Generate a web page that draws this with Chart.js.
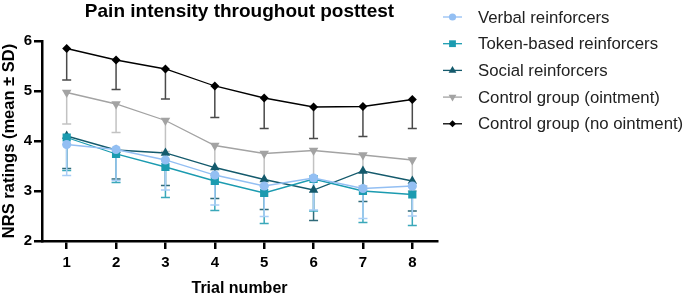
<!DOCTYPE html>
<html>
<head>
<meta charset="utf-8">
<script src="https://cdn.jsdelivr.net/npm/chart.js@4.4.1/dist/chart.umd.min.js"></script>
<style>
  html, body { margin: 0; padding: 0; background: #fff; }
  #wrap { width: 685px; height: 296px; position: relative; }
</style>
</head>
<body>
<div id="wrap"><canvas id="chart" width="685" height="296"></canvas></div>
<script>
const trials = ['1', '2', '3', '4', '5', '6', '7', '8'];

const verbalMean = [3.93, 3.83, 3.62, 3.32, 3.10, 3.26, 3.05, 3.10];
const verbalSD = [0.62, 0.62, 0.60, 0.60, 0.61, 0.64, 0.60, 0.60];
const tokenMean = [4.07, 3.74, 3.48, 3.20, 2.96, 3.24, 3.00, 2.93];
const tokenSD = [0.66, 0.57, 0.61, 0.59, 0.61, 0.64, 0.63, 0.62];
const socialMean = [4.10, 3.82, 3.76, 3.47, 3.23, 3.02, 3.40, 3.20];
const socialSD = [0.65, 0.58, 0.65, 0.62, 0.60, 0.61, 0.61, 0.60];
const ointmentMean = [4.97, 4.74, 4.41, 3.91, 3.75, 3.81, 3.72, 3.62];
const ointmentSD = [0.63, 0.57, 0.62, 0.60, 0.65, 0.60, 0.62, 0.62];
const noOintmentMean = [5.85, 5.62, 5.44, 5.10, 4.86, 4.68, 4.69, 4.83];
const noOintmentSD = [0.63, 0.59, 0.60, 0.63, 0.61, 0.63, 0.60, 0.58];

const FONT = '"Liberation Sans", Arial, Helvetica, sans-serif';

const series = [
  { label: 'Verbal reinforcers', mean: verbalMean, sd: verbalSD, color: '#93bff3', bar: '#a8cdf6', style: 'circle', radius: 4.6, rot: 0 },
  { label: 'Token-based reinforcers', mean: tokenMean, sd: tokenSD, color: '#1b9bb0', bar: '#3aa8ba', style: 'rect', radius: 5.8, rot: 0 },
  { label: 'Social reinforcers', mean: socialMean, sd: socialSD, color: '#145a6c', bar: '#2f6a79', style: 'triangle', radius: 5.5, rot: 0 },
  { label: 'Control group (ointment)', mean: ointmentMean, sd: ointmentSD, color: '#a3a3a3', bar: '#c2c2c2', style: 'triangle', radius: 5.5, rot: 180 },
  { label: 'Control group (no ointment)', mean: noOintmentMean, sd: noOintmentSD, color: '#000000', bar: '#4a4a4a', style: 'rectRot', radius: 4.5, rot: 0 }
];

// lower error bars (mean - SD), drawn under the lines
const errorBars = {
  id: 'errorBars',
  beforeDatasetsDraw(chart) {
    const { ctx, scales: { x, y } } = chart;
    ctx.save();
    ctx.lineWidth = 1.5;
    for (let i = series.length - 1; i >= 0; i--) {
      const s = series[i];
      ctx.strokeStyle = s.bar;
      s.mean.forEach((m, j) => {
        const px = x.getPixelForValue(j);
        const top = y.getPixelForValue(m);
        const bot = y.getPixelForValue(m - s.sd[j]);
        ctx.beginPath();
        ctx.moveTo(px, top);
        ctx.lineTo(px, bot);
        ctx.moveTo(px - 4.5, bot);
        ctx.lineTo(px + 4.5, bot);
        ctx.stroke();
      });
    }
    ctx.restore();
  }
};

const extras = {
  id: 'extras',
  afterDraw(chart) {
    const { ctx, chartArea } = chart;
    ctx.save();
    // title
    ctx.fillStyle = '#000';
    ctx.font = 'bold 19px ' + FONT;
    ctx.textAlign = 'center';
    ctx.textBaseline = 'middle';
    ctx.fillText('Pain intensity throughout posttest', (chartArea.left + chartArea.right) / 2, 12);
    // legend
    ctx.font = '16.8px ' + FONT;
    ctx.textAlign = 'left';
    series.forEach((s, i) => {
      const cy = 17 + i * 26.7;
      ctx.strokeStyle = s.color;
      ctx.lineWidth = 1.3;
      ctx.beginPath();
      ctx.moveTo(443, cy);
      ctx.lineTo(462, cy);
      ctx.stroke();
      ctx.fillStyle = s.color;
      Chart.helpers.drawPoint(ctx, { pointStyle: s.style, radius: s.radius - 1, rotation: s.rot, borderWidth: 0 }, 452.5, cy);
      ctx.fillStyle = '#222';
      ctx.fillText(s.label, 478, cy + 1);
    });
    ctx.restore();
  }
};

new Chart(document.getElementById('chart').getContext('2d'), {
  type: 'line',
  data: {
    labels: trials,
    datasets: series.map((s) => ({
      label: s.label,
      data: s.mean,
      borderColor: s.color,
      backgroundColor: s.color,
      borderWidth: 1.3,
      pointStyle: s.style,
      pointRadius: s.radius,
      pointRotation: s.rot,
      pointBorderWidth: 0,
      pointBackgroundColor: s.color,
      tension: 0
    }))
  },
  options: {
    responsive: false,
    animation: false,
    layout: { padding: { top: 41, right: 248, left: 0, bottom: 0 } },
    plugins: {
      legend: { display: false },
      title: { display: false },
      tooltip: { enabled: false }
    },
    scales: {
      x: {
        type: 'category',
        offset: true,
        afterFit: (scale) => { scale.height = 55; },
        grid: { offset: false, drawOnChartArea: false, drawTicks: true, tickLength: 8, color: '#000', lineWidth: 2.5 },
        border: { display: true, color: '#000', width: 2.5 },
        ticks: { color: '#000', font: { family: FONT, size: 15, weight: 'bold' }, padding: 5 },
        title: { display: true, text: 'Trial number', color: '#000', font: { family: FONT, size: 16, weight: 'bold' }, padding: { top: 0, bottom: -2 } }
      },
      y: {
        min: 2,
        max: 6,
        afterFit: (scale) => { scale.width = 42; },
        ticks: { stepSize: 1, color: '#000', font: { family: FONT, size: 15, weight: 'bold' }, padding: 2 },
        grid: { drawOnChartArea: false, drawTicks: true, tickLength: 8, color: '#000', lineWidth: 2.5 },
        border: { display: true, color: '#000', width: 2.5 },
        title: { display: true, text: 'NRS ratings (mean ± SD)', color: '#000', font: { family: FONT, size: 16.5, weight: 'bold' }, padding: { top: 0, bottom: 0 } }
      }
    }
  },
  plugins: [errorBars, extras]
});
</script>
</body>
</html>
